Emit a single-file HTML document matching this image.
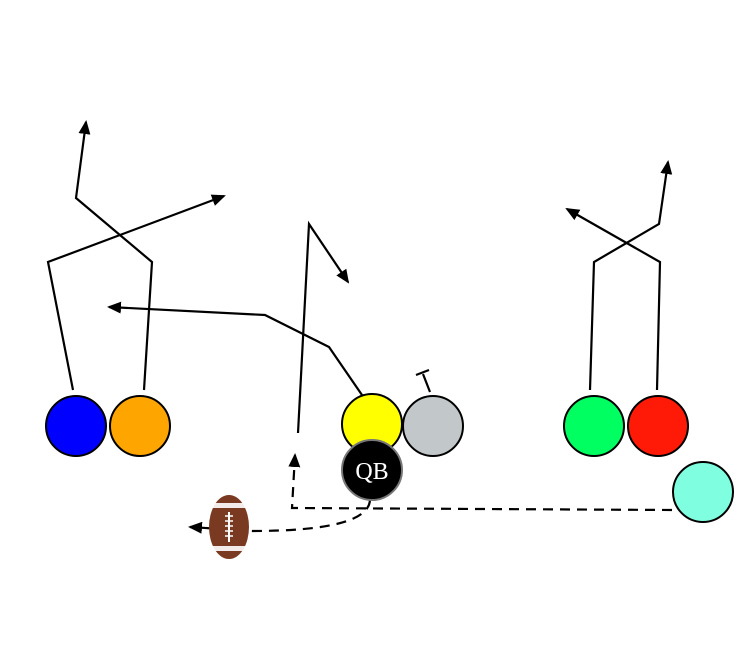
<!DOCTYPE html>
<html><head><style>body{margin:0;background:#fff}</style></head><body>
<svg width="750" height="655" viewBox="0 0 750 655" xmlns="http://www.w3.org/2000/svg">
<defs>
<marker id="a" markerWidth="10" markerHeight="10" refX="8" refY="5" orient="auto" markerUnits="userSpaceOnUse"><path d="M0,0 L12,5 L0,10 z" fill="#000"/></marker>
<marker id="b" markerWidth="14" markerHeight="12" refX="12" refY="6" orient="auto" markerUnits="userSpaceOnUse"><path d="M0,0 L14,6 L0,12 z" fill="#000"/></marker>
</defs>
<g fill="none" stroke="#000" stroke-width="2.2">
<polyline points="73,390 48,262 224,196" marker-end="url(#b)"/>
<polyline points="144,390 152,262 76,198 86,122" marker-end="url(#b)"/>
<polyline points="362,395 329,347 265,315 109,307" marker-end="url(#b)"/>
<polyline points="298,433 309,224 348,282" marker-end="url(#b)"/>
<line x1="430" y1="392" x2="423" y2="374"/><line x1="416" y1="375" x2="429" y2="370"/>
<polyline points="590,390 594,262 659,224 668,162" marker-end="url(#b)"/>
<polyline points="657,390 660,262 567,209" marker-end="url(#b)"/>
<g stroke-dasharray="10,7">
<polyline points="672,510 292,508 295,455" marker-end="url(#b)"/>
<path d="M370,500 Q368,531 252,531 L190,527" marker-end="url(#b)"/>
</g>
</g>
<g stroke="#000" stroke-width="2">
<circle cx="76" cy="426" r="30" fill="#0000ff"/>
<circle cx="140" cy="426" r="30" fill="#ffa500"/>
<circle cx="372" cy="424" r="30" fill="#ffff00"/>
<circle cx="433" cy="426" r="30" fill="#c2c8ca"/>
<circle cx="594" cy="426" r="30" fill="#00ff60"/>
<circle cx="658" cy="426" r="30" fill="#ff1a08"/>
<circle cx="703" cy="492" r="30" fill="#80ffe0"/>
<circle cx="372" cy="470" r="30" fill="#000" stroke="#777"/>
</g>
<text x="372" y="479" font-family="Liberation Serif, serif" font-size="24" fill="#fff" text-anchor="middle">QB</text>
<g>
<ellipse cx="229" cy="527" rx="20" ry="32" fill="#7a3a22"/>
<rect x="209" y="503" width="40" height="5" fill="#fff" opacity=".9"/>
<rect x="209" y="546" width="40" height="5" fill="#fff" opacity=".9"/>
<line x1="229" y1="512" x2="229" y2="542" stroke="#fff" stroke-width="2"/>
<g stroke="#fff" stroke-width="1.5"><line x1="225" y1="516" x2="233" y2="516"/><line x1="225" y1="521" x2="233" y2="521"/><line x1="225" y1="526" x2="233" y2="526"/><line x1="225" y1="531" x2="233" y2="531"/><line x1="225" y1="536" x2="233" y2="536"/></g>
</g>
</svg>
</body></html>
